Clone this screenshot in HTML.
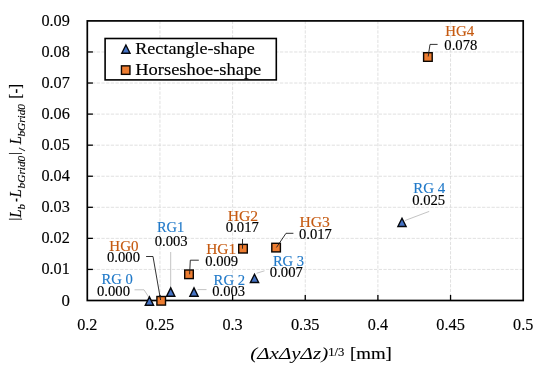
<!DOCTYPE html>
<html lang="en"><head><meta charset="utf-8"><title>Grid convergence chart</title>
<style>html,body{margin:0;padding:0;background:#fff}body{width:550px;height:367px;overflow:hidden}svg{display:block}text{font-family:"Liberation Serif", "DejaVu Serif", serif;stroke-linejoin:round}</style></head><body>
<svg width="550" height="367" viewBox="0 0 550 367">
<rect x="0" y="0" width="550" height="367" fill="#ffffff"/>
<g stroke="#d6d6d6" stroke-width="0.75" stroke-dasharray="3.3 1.4" fill="none"><line x1="159.95" y1="20.90" x2="159.95" y2="300.50"/><line x1="232.60" y1="20.90" x2="232.60" y2="300.50"/><line x1="305.25" y1="20.90" x2="305.25" y2="300.50"/><line x1="377.90" y1="20.90" x2="377.90" y2="300.50"/><line x1="450.55" y1="20.90" x2="450.55" y2="300.50"/><line x1="87.30" y1="269.43" x2="523.20" y2="269.43"/><line x1="87.30" y1="238.37" x2="523.20" y2="238.37"/><line x1="87.30" y1="207.30" x2="523.20" y2="207.30"/><line x1="87.30" y1="176.23" x2="523.20" y2="176.23"/><line x1="87.30" y1="145.17" x2="523.20" y2="145.17"/><line x1="87.30" y1="114.10" x2="523.20" y2="114.10"/><line x1="87.30" y1="83.03" x2="523.20" y2="83.03"/><line x1="87.30" y1="51.97" x2="523.20" y2="51.97"/></g>
<g stroke="#000" stroke-width="1.3" fill="none"><line x1="159.95" y1="300.50" x2="159.95" y2="294.90"/><line x1="232.60" y1="300.50" x2="232.60" y2="294.90"/><line x1="305.25" y1="300.50" x2="305.25" y2="294.90"/><line x1="377.90" y1="300.50" x2="377.90" y2="294.90"/><line x1="450.55" y1="300.50" x2="450.55" y2="294.90"/><line x1="87.30" y1="269.43" x2="92.90" y2="269.43"/><line x1="87.30" y1="238.37" x2="92.90" y2="238.37"/><line x1="87.30" y1="207.30" x2="92.90" y2="207.30"/><line x1="87.30" y1="176.23" x2="92.90" y2="176.23"/><line x1="87.30" y1="145.17" x2="92.90" y2="145.17"/><line x1="87.30" y1="114.10" x2="92.90" y2="114.10"/><line x1="87.30" y1="83.03" x2="92.90" y2="83.03"/><line x1="87.30" y1="51.97" x2="92.90" y2="51.97"/></g>
<rect x="87.30" y="20.90" width="435.90" height="279.60" fill="none" stroke="#000" stroke-width="1.7"/>
<text x="61.40" y="306.00" font-size="16.50" fill="#000" stroke="#000" stroke-width="0.15" textLength="8.40" lengthAdjust="spacingAndGlyphs">0</text>
<text x="41.40" y="274.33" font-size="16.50" fill="#000" stroke="#000" stroke-width="0.15" textLength="28.40" lengthAdjust="spacingAndGlyphs">0.01</text>
<text x="41.40" y="243.27" font-size="16.50" fill="#000" stroke="#000" stroke-width="0.15" textLength="28.40" lengthAdjust="spacingAndGlyphs">0.02</text>
<text x="41.40" y="212.20" font-size="16.50" fill="#000" stroke="#000" stroke-width="0.15" textLength="28.40" lengthAdjust="spacingAndGlyphs">0.03</text>
<text x="41.40" y="181.13" font-size="16.50" fill="#000" stroke="#000" stroke-width="0.15" textLength="28.40" lengthAdjust="spacingAndGlyphs">0.04</text>
<text x="41.40" y="150.07" font-size="16.50" fill="#000" stroke="#000" stroke-width="0.15" textLength="28.40" lengthAdjust="spacingAndGlyphs">0.05</text>
<text x="41.40" y="119.00" font-size="16.50" fill="#000" stroke="#000" stroke-width="0.15" textLength="28.40" lengthAdjust="spacingAndGlyphs">0.06</text>
<text x="41.40" y="87.93" font-size="16.50" fill="#000" stroke="#000" stroke-width="0.15" textLength="28.40" lengthAdjust="spacingAndGlyphs">0.07</text>
<text x="41.40" y="56.87" font-size="16.50" fill="#000" stroke="#000" stroke-width="0.15" textLength="28.40" lengthAdjust="spacingAndGlyphs">0.08</text>
<text x="41.40" y="25.80" font-size="16.50" fill="#000" stroke="#000" stroke-width="0.15" textLength="28.40" lengthAdjust="spacingAndGlyphs">0.09</text>
<text x="77.20" y="329.90" font-size="16.50" fill="#000" stroke="#000" stroke-width="0.15" textLength="20.20" lengthAdjust="spacingAndGlyphs">0.2</text>
<text x="145.65" y="329.90" font-size="16.50" fill="#000" stroke="#000" stroke-width="0.15" textLength="28.60" lengthAdjust="spacingAndGlyphs">0.25</text>
<text x="222.50" y="329.90" font-size="16.50" fill="#000" stroke="#000" stroke-width="0.15" textLength="20.20" lengthAdjust="spacingAndGlyphs">0.3</text>
<text x="290.95" y="329.90" font-size="16.50" fill="#000" stroke="#000" stroke-width="0.15" textLength="28.60" lengthAdjust="spacingAndGlyphs">0.35</text>
<text x="367.80" y="329.90" font-size="16.50" fill="#000" stroke="#000" stroke-width="0.15" textLength="20.20" lengthAdjust="spacingAndGlyphs">0.4</text>
<text x="436.25" y="329.90" font-size="16.50" fill="#000" stroke="#000" stroke-width="0.15" textLength="28.60" lengthAdjust="spacingAndGlyphs">0.45</text>
<text x="513.10" y="329.90" font-size="16.50" fill="#000" stroke="#000" stroke-width="0.15" textLength="20.20" lengthAdjust="spacingAndGlyphs">0.5</text>
<text x="250.20" y="359.00" font-size="16.00" fill="#000" font-style="italic" textLength="78.00" lengthAdjust="spacingAndGlyphs">(ΔxΔyΔz)</text>
<text x="328.20" y="355.80" font-size="12.00" fill="#000" stroke="#000" stroke-width="0.15" textLength="16.20" lengthAdjust="spacingAndGlyphs">1/3</text>
<text x="350.00" y="359.20" font-size="16.60" fill="#000" stroke="#000" stroke-width="0.15" textLength="41.80" lengthAdjust="spacingAndGlyphs">[mm]</text>
<g transform="translate(20.9 219.6) rotate(-90)">
<text x="-0.90" y="-2.10" font-size="14.40" fill="#000" stroke="#000" stroke-width="0.15">|</text>
<text x="2.20" y="0.00" font-size="16.00" fill="#000" stroke="#000" stroke-width="0.15" font-style="italic" textLength="8.00" lengthAdjust="spacingAndGlyphs">L</text>
<text x="10.00" y="3.90" font-size="11.00" fill="#000" stroke="#000" stroke-width="0.15" font-style="italic" textLength="5.40" lengthAdjust="spacingAndGlyphs">b</text>
<text x="17.90" y="0.00" font-size="16.00" fill="#000" stroke="#000" stroke-width="0.15" textLength="3.60" lengthAdjust="spacingAndGlyphs">-</text>
<text x="22.40" y="0.00" font-size="16.00" fill="#000" stroke="#000" stroke-width="0.15" font-style="italic" textLength="8.00" lengthAdjust="spacingAndGlyphs">L</text>
<text x="31.20" y="3.90" font-size="11.00" fill="#000" stroke="#000" stroke-width="0.15" font-style="italic" textLength="32.60" lengthAdjust="spacingAndGlyphs">bGrid0</text>
<text x="64.70" y="-2.10" font-size="14.40" fill="#000" stroke="#000" stroke-width="0.15">|</text>
<text x="68.40" y="3.90" font-size="8.00" fill="#000" stroke="#000" stroke-width="0.15" textLength="3.60" lengthAdjust="spacingAndGlyphs">/</text>
<text x="75.30" y="0.00" font-size="16.00" fill="#000" stroke="#000" stroke-width="0.15" font-style="italic" textLength="8.00" lengthAdjust="spacingAndGlyphs">L</text>
<text x="83.00" y="3.90" font-size="11.00" fill="#000" stroke="#000" stroke-width="0.15" font-style="italic" textLength="32.60" lengthAdjust="spacingAndGlyphs">bGrid0</text>
<text x="121.20" y="0.00" font-size="16.00" fill="#000" stroke="#000" stroke-width="0.15" textLength="14.40" lengthAdjust="spacingAndGlyphs">[-]</text>
</g>
<rect x="105.1" y="38.5" width="171.2" height="41.4" fill="#fff" stroke="#000" stroke-width="1.6"/>
<polygon points="125.90,45.00 130.02,53.29 121.78,53.29" fill="#4472c4" stroke="#05070c" stroke-width="1.4" stroke-linejoin="miter"/>
<rect x="121.45" y="65.85" width="8.50" height="8.50" fill="#ed7d31" stroke="#0c0602" stroke-width="1.4"/>
<text x="135.30" y="54.20" font-size="17.00" fill="#000" stroke="#000" stroke-width="0.15" textLength="119.40" lengthAdjust="spacingAndGlyphs">Rectangle-shape</text>
<text x="135.30" y="74.70" font-size="17.00" fill="#000" stroke="#000" stroke-width="0.15" textLength="126.00" lengthAdjust="spacingAndGlyphs">Horseshoe-shape</text>
<polyline points="134.5,289.8 144.0,289.8 149.0,297.5" fill="none" stroke="#bcbcbc" stroke-width="0.9"/>
<polyline points="170.7,252.0 170.7,288.0" fill="none" stroke="#bcbcbc" stroke-width="0.9"/>
<polyline points="197.5,289.6 206.5,289.6" fill="none" stroke="#bcbcbc" stroke-width="0.9"/>
<polyline points="256.5,273.3 264.5,270.8" fill="none" stroke="#bcbcbc" stroke-width="0.9"/>
<polyline points="404.8,220.6 429.2,211.4" fill="none" stroke="#bcbcbc" stroke-width="0.9"/>
<polygon points="149.40,296.90 153.52,305.19 145.28,305.19" fill="#4472c4" stroke="#05070c" stroke-width="1.4" stroke-linejoin="miter"/>
<polygon points="170.70,287.90 174.82,296.19 166.58,296.19" fill="#4472c4" stroke="#05070c" stroke-width="1.4" stroke-linejoin="miter"/>
<polygon points="194.00,287.90 198.12,296.19 189.88,296.19" fill="#4472c4" stroke="#05070c" stroke-width="1.4" stroke-linejoin="miter"/>
<polygon points="254.50,274.20 258.62,282.49 250.38,282.49" fill="#4472c4" stroke="#05070c" stroke-width="1.4" stroke-linejoin="miter"/>
<polygon points="402.00,218.20 406.12,226.49 397.88,226.49" fill="#4472c4" stroke="#05070c" stroke-width="1.4" stroke-linejoin="miter"/>
<rect x="156.90" y="296.50" width="8.60" height="8.60" fill="#ed7d31" stroke="#0c0602" stroke-width="1.4"/>
<rect x="184.70" y="270.00" width="8.60" height="8.60" fill="#ed7d31" stroke="#0c0602" stroke-width="1.4"/>
<rect x="238.70" y="244.40" width="8.60" height="8.60" fill="#ed7d31" stroke="#0c0602" stroke-width="1.4"/>
<rect x="271.80" y="243.30" width="8.60" height="8.60" fill="#ed7d31" stroke="#0c0602" stroke-width="1.4"/>
<rect x="423.60" y="52.70" width="8.60" height="8.60" fill="#ed7d31" stroke="#0c0602" stroke-width="1.4"/>
<polyline points="146.1,256.5 153.0,256.5 160.6,300.0" fill="none" stroke="#1c1c1c" stroke-width="0.9"/>
<polyline points="198.8,260.2 190.3,260.2 189.6,274.3" fill="none" stroke="#1c1c1c" stroke-width="0.9"/>
<polyline points="242.5,239.0 242.5,248.7" fill="none" stroke="#1c1c1c" stroke-width="0.9"/>
<polyline points="293.4,233.3 286.0,233.3 276.5,247.4" fill="none" stroke="#1c1c1c" stroke-width="0.9"/>
<polyline points="437.6,44.4 430.0,44.4 428.2,56.5" fill="none" stroke="#1c1c1c" stroke-width="0.9"/>
<text x="101.50" y="283.65" font-size="15.60" fill="#1f78c8" stroke="#1f78c8" stroke-width="0.15" textLength="31.20" lengthAdjust="spacingAndGlyphs">RG 0</text>
<text x="97.00" y="296.45" font-size="15.60" fill="#000" stroke="#000" stroke-width="0.15" textLength="33.00" lengthAdjust="spacingAndGlyphs">0.000</text>
<text x="109.30" y="250.85" font-size="15.60" fill="#c55a11" stroke="#c55a11" stroke-width="0.15" textLength="29.20" lengthAdjust="spacingAndGlyphs">HG0</text>
<text x="107.00" y="262.45" font-size="15.60" fill="#000" stroke="#000" stroke-width="0.15" textLength="33.00" lengthAdjust="spacingAndGlyphs">0.000</text>
<text x="156.90" y="231.55" font-size="15.60" fill="#1f78c8" stroke="#1f78c8" stroke-width="0.15" textLength="27.20" lengthAdjust="spacingAndGlyphs">RG1</text>
<text x="154.70" y="245.75" font-size="15.60" fill="#000" stroke="#000" stroke-width="0.15" textLength="33.00" lengthAdjust="spacingAndGlyphs">0.003</text>
<text x="206.20" y="254.05" font-size="15.60" fill="#c55a11" stroke="#c55a11" stroke-width="0.15" textLength="30.00" lengthAdjust="spacingAndGlyphs">HG1</text>
<text x="205.20" y="265.85" font-size="15.60" fill="#000" stroke="#000" stroke-width="0.15" textLength="33.00" lengthAdjust="spacingAndGlyphs">0.009</text>
<text x="213.60" y="284.55" font-size="15.60" fill="#1f78c8" stroke="#1f78c8" stroke-width="0.15" textLength="31.40" lengthAdjust="spacingAndGlyphs">RG 2</text>
<text x="212.30" y="295.95" font-size="15.60" fill="#000" stroke="#000" stroke-width="0.15" textLength="32.80" lengthAdjust="spacingAndGlyphs">0.003</text>
<text x="227.80" y="220.65" font-size="15.60" fill="#c55a11" stroke="#c55a11" stroke-width="0.15" textLength="30.40" lengthAdjust="spacingAndGlyphs">HG2</text>
<text x="225.80" y="232.25" font-size="15.60" fill="#000" stroke="#000" stroke-width="0.15" textLength="33.20" lengthAdjust="spacingAndGlyphs">0.017</text>
<text x="299.50" y="227.45" font-size="15.60" fill="#c55a11" stroke="#c55a11" stroke-width="0.15" textLength="30.40" lengthAdjust="spacingAndGlyphs">HG3</text>
<text x="298.90" y="239.25" font-size="15.60" fill="#000" stroke="#000" stroke-width="0.15" textLength="33.00" lengthAdjust="spacingAndGlyphs">0.017</text>
<text x="272.90" y="265.95" font-size="15.60" fill="#1f78c8" stroke="#1f78c8" stroke-width="0.15" textLength="31.20" lengthAdjust="spacingAndGlyphs">RG 3</text>
<text x="269.80" y="277.25" font-size="15.60" fill="#000" stroke="#000" stroke-width="0.15" textLength="33.00" lengthAdjust="spacingAndGlyphs">0.007</text>
<text x="413.30" y="192.55" font-size="15.60" fill="#1f78c8" stroke="#1f78c8" stroke-width="0.15" textLength="31.90" lengthAdjust="spacingAndGlyphs">RG 4</text>
<text x="412.20" y="204.95" font-size="15.60" fill="#000" stroke="#000" stroke-width="0.15" textLength="33.00" lengthAdjust="spacingAndGlyphs">0.025</text>
<text x="445.20" y="35.75" font-size="15.60" fill="#c55a11" stroke="#c55a11" stroke-width="0.15" textLength="29.00" lengthAdjust="spacingAndGlyphs">HG4</text>
<text x="444.30" y="49.75" font-size="15.60" fill="#000" stroke="#000" stroke-width="0.15" textLength="33.00" lengthAdjust="spacingAndGlyphs">0.078</text>
</svg></body></html>
